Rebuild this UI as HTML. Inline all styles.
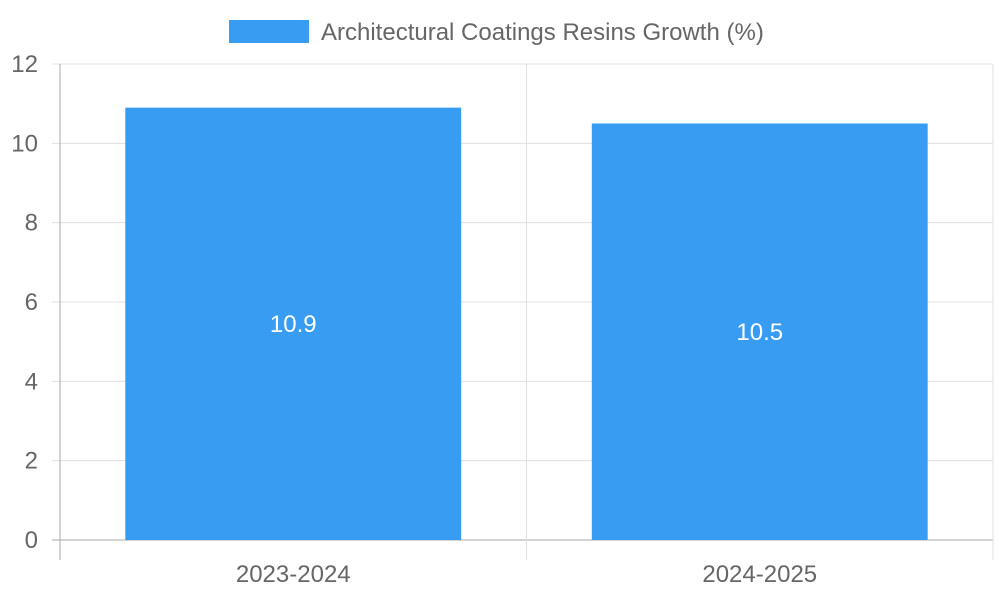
<!DOCTYPE html>
<html><head><meta charset="utf-8"><style>
body{margin:0;background:#fff;font-family:"Liberation Sans",sans-serif}
svg text{font-family:"Liberation Sans",sans-serif}
</style></head><body>
<svg id="chart" width="1000" height="600" xmlns="http://www.w3.org/2000/svg">
<g>
<rect x="229" y="20" width="80" height="23" fill="#389cf2"/>
<text x="321" y="40" font-size="24" fill="#666">Architectural Coatings Resins Growth (%)</text>
</g>
<g id="grid"></g>
<g id="bars"></g>
<g id="axes"></g>
</svg>
<script>
const categories=["2023-2024","2024-2025"];
const values=[10.9,10.5];
const yTicks=[0,2,4,6,8,10,12];
const NS="http://www.w3.org/2000/svg";
const L=60,R=993,T=64,B=540,yMax=12;
const y=v=>B-(v/yMax)*(B-T);
const cw=(R-L)/categories.length;
const x=i=>L+cw*i;
function mk(t,a,p){const e=document.createElementNS(NS,t);for(const k in a)e.setAttribute(k,a[k]);p.appendChild(e);return e;}
const grid=document.getElementById('grid'),bars=document.getElementById('bars'),axes=document.getElementById('axes');
yTicks.forEach(v=>{
 const l=mk('line',{x1:L-8,x2:R,y1:y(v),y2:y(v),stroke:v===0?'#aaa':'#e0e0e0','stroke-width':1},grid);
 
 
 const t=mk('text',{x:L-22,y:y(v)+8,'font-size':24,fill:'#666','text-anchor':'end'},axes);
 t.textContent=v;
 
 
});
for(let i=0;i<=categories.length;i++){
 const l=mk('line',{x1:x(i),x2:x(i),y1:T,y2:B+20,stroke:i===0?'#aaa':'#e0e0e0','stroke-width':1},grid);
 
 
}
categories.forEach((c,i)=>{
 const bw=cw*0.72,bx=x(i)+(cw-bw)/2;
 const r=mk('rect',{x:bx,y:y(values[i]),width:bw,height:B-y(values[i]),fill:'#389cf2'},bars);
 
 
 const vt=mk('text',{x:bx+bw/2,y:(y(values[i])+B)/2+8,'font-size':24,fill:'#fff','text-anchor':'middle'},bars);
 vt.textContent=values[i];
 
 
 const t=mk('text',{x:x(i)+cw/2,y:582,'font-size':24,fill:'#666','text-anchor':'middle'},axes);
 t.textContent=c;
 
 
});
</script>
</body></html>
